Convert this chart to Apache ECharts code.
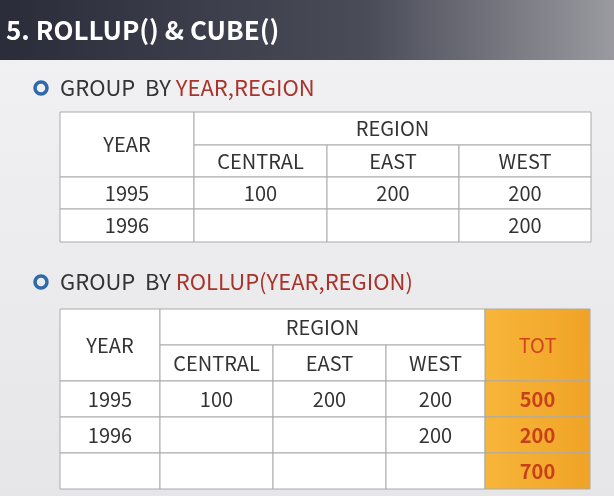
<!DOCTYPE html><html><head><meta charset="utf-8"><script src="https://cdn.jsdelivr.net/npm/echarts@6/dist/echarts.min.js"></script>
<style>html,body{margin:0;padding:0}#c{width:614px;height:496px}</style></head><body><div id="c"></div><script>
var title = "5. ROLLUP() & CUBE()";
var regions = ["CENTRAL","EAST","WEST"];
var years = ["1995","1996"];
var t1Values = [["100","200","200"],["","","200"]];
var t2Values = [["100","200","200"],["","","200"],["","",""]];
var t2Years = ["1995","1996",""];
var totals = ["500","200","700"];
var F = "'Noto Sans CJK KR','Noto Sans',sans-serif";
var g = [];
g.push({type:'rect',shape:{x:0,y:0,width:614,height:496},style:{fill:new echarts.graphic.LinearGradient(0,0,0,1,[{offset:0,color:'#f2f2f4'},{offset:1,color:'#e6e6e8'}])}});
g.push({type:'rect',shape:{x:0,y:0,width:614,height:60},style:{fill:new echarts.graphic.LinearGradient(0,0,1,0,[{offset:0,color:'#2a2c3a'},{offset:0.6,color:'#4a4c58'},{offset:1,color:'#9a9aa0'}])}});
g.push({type:'text',x:6,y:30,style:{text:title,fill:'#fff',font:'bold 26px '+F,verticalAlign:'middle'}});
function bullet(y,rest){
  g.push({type:'circle',shape:{cx:41,cy:y,r:6},style:{fill:'none',stroke:'#2f6aa8',lineWidth:3.5}});
  g.push({type:'text',x:60,y:y,style:{rich:{a:{fill:'#333',font:'22px '+F},b:{fill:'#a8332a',font:'22px '+F}},text:'{a|GROUP  BY }{b|'+rest+'}',verticalAlign:'middle'}});
}
function cell(x,y,w,h,txt,opt){
  opt=opt||{};
  g.push({type:'rect',shape:{x:x,y:y,width:w,height:h},style:{fill:opt.fill||'#fff',stroke:'#aaaaaa',lineWidth:1}});
  if(txt) g.push({type:'text',x:x+w/2,y:y+h/2,style:{text:txt,fill:opt.color||'#333',font:(opt.bold?'bold ':'')+'20px '+F,align:'center',verticalAlign:'middle'}});
}
bullet(88,'YEAR,REGION');
(function(){var x0=60,cols=[134,133,132,132],rh=[33,32,32,33],y=112;
 cell(x0,y,cols[0],rh[0]+rh[1],'YEAR');
 cell(x0+cols[0],y,cols[1]+cols[2]+cols[3],rh[0],'REGION');
 var x=x0+cols[0];regions.forEach(function(r,i){cell(x,y+rh[0],cols[i+1],rh[1],r);x+=cols[i+1];});
 var yy=y+rh[0]+rh[1];
 years.forEach(function(yr,ri){var xx=x0;cell(xx,yy,cols[0],rh[ri+2],yr);xx+=cols[0];
  t1Values[ri].forEach(function(v,ci){cell(xx,yy,cols[ci+1],rh[ri+2],v);xx+=cols[ci+1];});yy+=rh[ri+2];});
})();
bullet(282,'ROLLUP(YEAR,REGION)');
(function(){var x0=60,cols=[100,113,113,99,105],rh=36,y=309;
 var gold=new echarts.graphic.LinearGradient(0,0,1,0,[{offset:0,color:'#f7b63a'},{offset:1,color:'#f0a326'}]);
 cell(x0,y,cols[0],rh*2,'YEAR');
 cell(x0+cols[0],y,cols[1]+cols[2]+cols[3],rh,'REGION');
 var xt=x0+cols[0]+cols[1]+cols[2]+cols[3];
 cell(xt,y,cols[4],rh*2,'TOT',{fill:gold,color:'#d2451c'});
 var x=x0+cols[0];regions.forEach(function(r,i){cell(x,y+rh,cols[i+1],rh,r);x+=cols[i+1];});
 var yy=y+rh*2;
 t2Years.forEach(function(yr,ri){var xx=x0;cell(xx,yy,cols[0],rh,yr);xx+=cols[0];
  t2Values[ri].forEach(function(v,ci){cell(xx,yy,cols[ci+1],rh,v);xx+=cols[ci+1];});
  cell(xx,yy,cols[4],rh,totals[ri],{fill:gold,color:'#c8401a',bold:true});yy+=rh;});
})();
var ch=echarts.init(document.getElementById('c'));
ch.setOption({graphic:{elements:g}});
</script></body></html>
